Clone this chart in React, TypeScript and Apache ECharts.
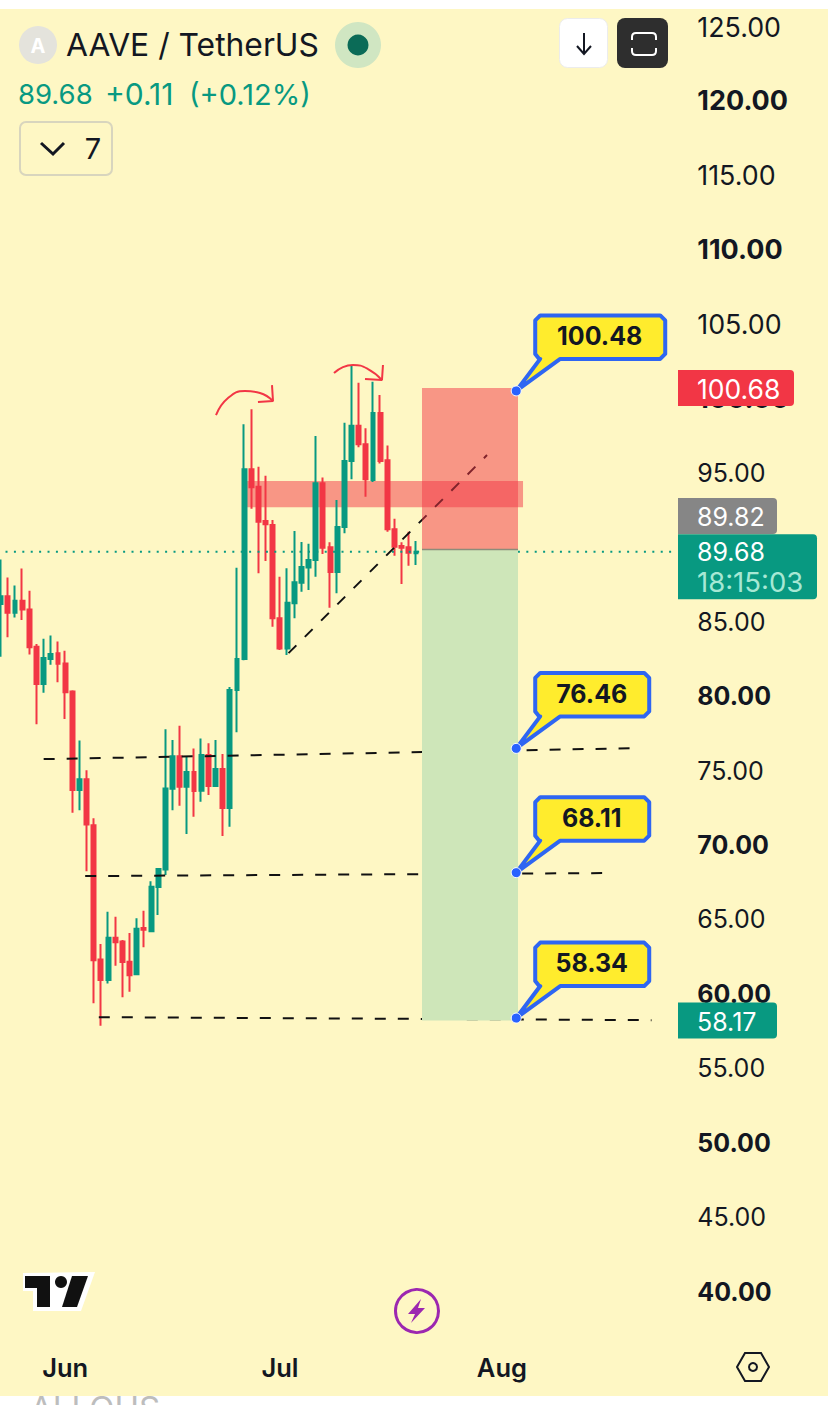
import React, { useEffect, useRef } from "react";
import * as echarts from "echarts";

const FONT = "Inter, 'Noto Sans', sans-serif";
const UP = "#089981";
const DOWN = "#F23645";
const INK = "#131722";

// ---- candles, one per day from May 23 ----
const opens = [86.16,86.69,85.57,86.38,85.8,83.29,80.78,82.46,82.86,82.17,80.29,73.66,74.39,71.3,62.28,60.89,63.73,63.49,62.12,61.29,64.39,64.18,67.14,68.33,73.75,75.94,73.88,74.87,73.61,76.01,73.93,75.07,72.45,80.38,82.46,95.21,94.04,91.74,91.47,85.2,83.18,86.21,87.59,88.62,89.12,94.27,89.97,88.31,91.33,95.77,98.14,96.89,94.49,98.99,95.82,91.18,90.06,89.97,89.57];
const closes = [86.69,85.57,86.38,85.8,83.25,80.78,82.53,82.8,82.15,80.24,73.66,74.39,71.35,62.23,60.89,63.73,63.44,62.1,61.22,64.34,64.27,67.16,68.35,73.77,75.94,73.88,74.87,73.59,76.01,73.93,75.07,72.45,80.38,82.46,95.21,94.0,91.69,91.52,85.2,83.18,86.25,87.62,88.65,89.12,94.27,89.94,88.31,91.33,95.77,98.14,96.89,94.54,98.99,95.77,91.18,90.01,89.94,89.61,89.68];
const lows = [82.61,83.92,85.26,85.08,82.77,78.09,80.2,82.08,80.91,78.43,72.13,72.31,68.21,59.34,57.82,60.67,61.85,59.73,60.1,61.29,63.09,64.12,65.26,67.95,72.31,72.6,70.7,71.86,72.87,73.32,73.93,70.57,71.19,77.54,82.39,92.56,88.22,89.05,84.63,83.07,82.73,85.2,86.99,87.1,87.99,89.52,85.91,86.88,90.91,94.54,96.69,93.37,94.36,95.61,91.02,89.4,87.5,88.73,88.78];
const highs = [89.16,87.95,87.41,88.55,87.05,83.47,83.82,84.05,83.65,83.02,80.37,76.99,74.99,71.77,63.31,65.48,65.14,63.58,64.05,65.04,65.55,67.54,68.4,77.74,77.02,77.98,75.9,76.46,77.13,76.8,77.02,76.08,80.58,88.6,98.24,99.24,95.39,94.78,91.8,87.99,88.56,91.06,90.33,90.21,97.45,94.67,90.31,93.15,98.34,102.22,101.03,97.97,101.1,100.2,96.82,91.89,90.31,91.02,90.39];

const monthLengths: [string, number, number][] = [["05", 23, 31], ["06", 1, 30], ["07", 1, 31], ["08", 1, 25]];
const categories: string[] = [];
monthLengths.forEach(([m, a, b]) => { for (let d = a; d <= b; d++) categories.push(`${m}-${String(d).padStart(2, "0")}`); });
const monthLabels: Record<string, string> = { "06-01": "Jun", "07-01": "Jul", "08-01": "Aug" };

// ---- drawing tools: [day index, price] ----
const lastPrice = 89.68;
const entryPrice = 89.82;
const trendTop = [[6.0, 75.74], [89.2, 76.48]];
const trendMid = [[11.8, 67.88], [84.0, 68.08]];
const trendLow = [[13.7, 58.4], [90.9, 58.2]];
const trendRise = [[40.2, 82.86], [67.92, 96.17]];
const dashedLines = [trendTop, trendMid, trendLow, trendRise];
const arcA = [[30.07, 98.86], [31.75, 100.0], [34.12, 100.47], [36.21, 100.34], [38.03, 99.8]];
const arcAHead = [[37.89, 100.87], [38.03, 99.8], [35.93, 99.73]];
const arcB = [[46.55, 101.68], [47.8, 102.08], [49.2, 102.22], [51.3, 101.95], [53.25, 101.21]];
const arcBHead = [[53.39, 102.22], [53.25, 101.21], [50.88, 101.28]];
const zoneBand = [34.4, 72.95, 94.42, 92.67];
const stopBox = [58.84, 72.25, 100.68, entryPrice];
const targetBox = [58.84, 72.25, entryPrice, 58.17];
const calloutDay = 72;
const calloutPrices = [100.48, 76.46, 68.11, 58.34];
const tagPrices = [100.68, 89.82, 89.68, 58.17];
const tagColors = [DOWN, "#868686", UP, UP];
const tagWidths = [116, 99, 139, 99];
const tagCountdown = "18:15:03";

const TICK = { fontFamily: FONT, color: INK, padding: [1, 0, 0, 0] };
const richTicks = {
  n: { ...TICK, fontSize: 25, fontWeight: 400 },
  b: { ...TICK, fontSize: 25, fontWeight: 700 },
  nw: { ...TICK, fontSize: 26.8, fontWeight: 400 },
  bw: { ...TICK, fontSize: 27, fontWeight: 700 },
};

function lineSeries(data: number[][], z: number, extra: any) {
  return { type: "line", xAxisIndex: 1, yAxisIndex: 0, data, z, symbol: "none", silent: true, ...extra };
}
const dashStyle = { color: "#111", width: 2, type: [11, 12] };
const sketchStyle = { color: DOWN, width: 2 };

function rectSeries(box: number[], fill: string, z: number) {
  return {
    type: "custom", xAxisIndex: 1, yAxisIndex: 0, z, silent: true, data: [box],
    encode: { x: [0, 1], y: [2, 3] },
    renderItem: (_: any, api: any) => {
      const a = api.coord([api.value(0), api.value(2)]);
      const b = api.coord([api.value(1), api.value(3)]);
      return { type: "rect", shape: { x: a[0], y: a[1], width: b[0] - a[0], height: b[1] - a[1] }, style: { fill } };
    },
  };
}

const calloutSeries = {
  type: "custom", xAxisIndex: 1, yAxisIndex: 0, z: 6, silent: true,
  data: calloutPrices.map((p) => [calloutDay, p]),
  encode: { x: 0, y: 1 },
  renderItem: (_: any, api: any) => {
    const [x, y] = api.coord([api.value(0), api.value(1)]);
    const price = api.value(1) as number;
    const label = price.toFixed(2);
    const w = label.length > 5 ? 130 : 114;
    const l = x + 19, r = l + w, t = y - 75.5, b = y - 32, c = 5;
    const pts = [[l + c, t], [r - c, t], [r, t + c], [r, b - c], [r - c, b], [l + 25, b], [x, y], [l + 5, b], [l + c - 1, b], [l, b - c], [l, t + c]];
    return {
      type: "group",
      children: [
        { type: "polygon", shape: { points: pts }, style: { fill: "#FFEC2D", stroke: "#2E66F2", lineWidth: 4, lineJoin: "round" } },
        { type: "circle", shape: { cx: x, cy: y, r: 5 }, style: { fill: "#2962FF", stroke: "#FFFFFF", lineWidth: 1 } },
        { type: "text", style: { text: label, x: (l + r) / 2 - 0.5, y: (t + b) / 2 - 1, fill: INK, font: `700 25px ${FONT}`, textAlign: "center", textVerticalAlign: "middle" } },
      ],
    };
  },
};

const tagOffsets = [0, -33.5, 15, 0];
const tagSeries = {
  type: "custom", xAxisIndex: 1, yAxisIndex: 0, z: 7, silent: true,
  data: tagPrices.map((p, i) => [i, p]),
  encode: { y: 1 },
  renderItem: (_: any, api: any) => {
    const i = api.value(0) as number;
    const price = api.value(1) as number;
    const y = api.coord([0, price])[1] + tagOffsets[i];
    const two = i === 2;
    const h = two ? 65 : 36;
    const top = y - h / 2;
    const kids: any[] = [
      { type: "rect", shape: { x: 678, y: top, width: tagWidths[i], height: h, r: [0, 4, 4, 0] }, style: { fill: tagColors[i] } },
      { type: "text", style: { text: price.toFixed(2), x: 697, y: two ? top + 18 : y + 1, fill: "#FFFFFF", font: `400 ${i === 0 ? 26.5 : 25}px ${FONT}`, textAlign: "left", textVerticalAlign: "middle" } },
    ];
    if (two) kids.push({ type: "text", style: { text: tagCountdown, x: 697, y: top + 48, fill: "#A6E8D4", font: `400 27.5px ${FONT}`, textAlign: "left", textVerticalAlign: "middle" } });
    return { type: "group", children: kids };
  },
};

echarts.graphic.registerShape("focusIcon", echarts.graphic.extendPath("M632 40V37Q632 33 636 33H652Q656 33 656 37V40M632 48V51Q632 55 636 55H652Q656 55 656 51V48", {}));

const overlay: any[] = [
  { type: "rect", z: -10, shape: { x: 0, y: 9, width: 828, height: 1387 }, style: { fill: "#FEF7C4" } },
  { type: "text", z: -11, style: { text: "ALLOUS", x: 30, y: 1391, fill: "#BDBDBD", font: `400 33px ${FONT}`, textVerticalAlign: "top" } },
  { type: "circle", z: 20, shape: { cx: 38, cy: 45, r: 19 }, style: { fill: "#E4E3DC" } },
  { type: "text", z: 21, style: { text: "A", x: 38, y: 46, fill: "#FFFFFF", font: `700 20px ${FONT}`, textAlign: "center", textVerticalAlign: "middle" } },
  { type: "text", z: 20, style: { text: "AAVE / TetherUS", x: 66, y: 44.5, fill: INK, font: `400 31.8px ${FONT}`, textVerticalAlign: "middle" } },
  { type: "circle", z: 20, shape: { cx: 358, cy: 45, r: 23 }, style: { fill: "#D0E6C2" } },
  { type: "circle", z: 21, shape: { cx: 358, cy: 45, r: 10.5 }, style: { fill: "#0B6B57" } },
  { type: "text", z: 20, style: { text: "89.68", x: 18, y: 94, fill: UP, font: `400 27.5px ${FONT}`, textVerticalAlign: "middle" } },
  { type: "text", z: 20, style: { text: "+0.11", x: 105, y: 94, fill: UP, font: `400 30px ${FONT}`, textVerticalAlign: "middle" } },
  { type: "text", z: 20, style: { text: "(+0.12%)", x: 189, y: 94, fill: UP, font: `400 29px ${FONT}`, textVerticalAlign: "middle" } },
  { type: "rect", z: 20, shape: { x: 20, y: 122, width: 92, height: 53, r: 6 }, style: { fill: "transparent", stroke: "#D8D5BE", lineWidth: 2 } },
  { type: "polyline", z: 20, shape: { points: [[41, 143], [53, 154], [64, 143]] }, style: { fill: "none", stroke: INK, lineWidth: 3 } },
  { type: "text", z: 20, style: { text: "7", x: 93, y: 148, fill: INK, font: `400 29px ${FONT}`, textAlign: "center", textVerticalAlign: "middle" } },
  { type: "rect", z: 20, shape: { x: 559.5, y: 18.5, width: 48, height: 49, r: 8 }, style: { fill: "#FFFFFF", stroke: "#ECECEC", lineWidth: 1 } },
  { type: "polyline", z: 21, shape: { points: [[584, 33], [584, 54]] }, style: { fill: "none", stroke: INK, lineWidth: 2 } },
  { type: "polyline", z: 21, shape: { points: [[577, 46], [584, 54], [591, 46]] }, style: { fill: "none", stroke: INK, lineWidth: 2 } },
  { type: "rect", z: 20, shape: { x: 617, y: 18, width: 51, height: 50, r: 8 }, style: { fill: "#2E2E2E" } },
  { type: "focusIcon", z: 21, x: 0, y: 0, style: { fill: "none", stroke: "#FFFFFF", lineWidth: 2 } },
  { type: "polygon", z: 20, shape: { points: [[23, 1273], [95, 1272], [81, 1311], [33, 1311], [33, 1291], [23, 1291]] }, style: { fill: "#FFFFFF" } },
  { type: "polygon", z: 21, shape: { points: [[25, 1276], [50, 1276], [50, 1307], [37, 1307], [37, 1288], [25, 1288]] }, style: { fill: "#111111" } },
  { type: "circle", z: 21, shape: { cx: 61, cy: 1282, r: 6 }, style: { fill: "#111111" } },
  { type: "polygon", z: 21, shape: { points: [[72, 1276], [88, 1276], [77, 1307], [62, 1307]] }, style: { fill: "#111111" } },
  { type: "circle", z: 20, shape: { cx: 417, cy: 1311, r: 21.5 }, style: { fill: "transparent", stroke: "#9C27B0", lineWidth: 3 } },
  { type: "polygon", z: 20, shape: { points: [[421, 1299], [408, 1314], [415, 1314], [411, 1323], [425, 1308], [418, 1308]] }, style: { fill: "#9C27B0" } },
  { type: "polygon", z: 20, shape: { points: [[737, 1367], [745, 1353], [761, 1353], [769, 1367], [761, 1381], [745, 1381]] }, style: { fill: "transparent", stroke: INK, lineWidth: 2 } },
  { type: "circle", z: 20, shape: { cx: 753, cy: 1367, r: 4 }, style: { fill: "transparent", stroke: INK, lineWidth: 2 } },
];

export default function App() {
  const ref = useRef<HTMLDivElement>(null);
  useEffect(() => {
    const chart = echarts.init(ref.current!, undefined, { renderer: "svg" });
    chart.setOption({
      animation: false,
      backgroundColor: "transparent",
      grid: { left: -2.88, top: 26, width: 680.2, height: 1265, outerBoundsMode: "none" },
      xAxis: [
        {
          type: "category", data: categories, boundaryGap: true,
          axisLine: { show: false }, axisTick: { show: false }, splitLine: { show: false },
          axisLabel: {
            margin: 63.5,
            interval: (_: number, v: string) => v in monthLabels,
            formatter: (v: string) => monthLabels[v] ?? "",
            fontFamily: FONT, fontSize: 25.5, fontWeight: 600, color: INK,
          },
        },
        { type: "value", min: -0.5, max: 94.5, show: false },
      ],
      yAxis: {
        type: "value", position: "right", min: 40, max: 125, interval: 5, scale: true,
        axisLine: { show: false }, axisTick: { show: false }, splitLine: { show: false },
        axisLabel: {
          margin: 20,
          formatter: (v: number) => `{${v % 10 === 0 ? "b" : "n"}${v >= 100 ? "w" : ""}|${v.toFixed(2)}}`,
          rich: richTicks,
        },
      },
      graphic: { elements: overlay },
      series: [
        rectSeries(zoneBand, "rgba(242,54,69,0.5)", 1),
        {
          type: "candlestick", xAxisIndex: 0, yAxisIndex: 0, z: 2, barWidth: 4.4, silent: true,
          data: opens.map((o, i) => [o, closes[i], lows[i], highs[i]]),
          itemStyle: { color: UP, color0: DOWN, borderColor: UP, borderColor0: DOWN, borderWidth: 2 },
        },
        lineSeries([[-0.5, lastPrice], [94.5, lastPrice]], 3, { lineStyle: { color: UP, width: 2, type: [2, 6.4] } }),
        ...dashedLines.map((d) => lineSeries(d, 3, { lineStyle: dashStyle })),
        rectSeries(stopBox, "rgba(242,54,69,0.5)", 4),
        rectSeries(targetBox, "#CEE6B9", 4),
        lineSeries([[stopBox[0], entryPrice], [stopBox[1], entryPrice]], 5, { lineStyle: { color: "#8C8C7A", width: 1.5 } }),
        lineSeries(arcA, 5, { smooth: true, lineStyle: sketchStyle }),
        lineSeries(arcAHead, 5, { lineStyle: sketchStyle }),
        lineSeries(arcB, 5, { smooth: true, lineStyle: sketchStyle }),
        lineSeries(arcBHead, 5, { lineStyle: sketchStyle }),
        calloutSeries,
        tagSeries,
      ],
    });
    return () => chart.dispose();
  }, []);
  return (
    <div style={{ position: "fixed", left: 0, top: 0, width: 828, height: 1405, background: "#FFFFFF", overflow: "hidden" }}>
      <div ref={ref} style={{ width: 828, height: 1405 }} />
    </div>
  );
}
